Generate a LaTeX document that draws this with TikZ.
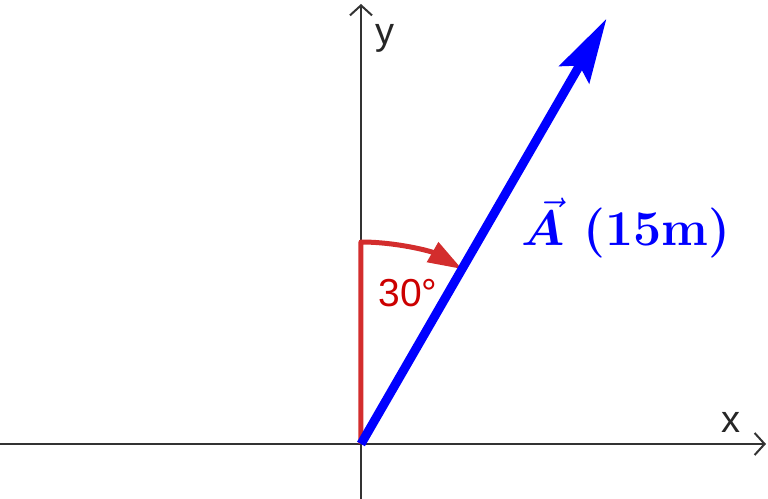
\documentclass[tikz,border=0pt]{standalone}
\usepackage{bm}
\usepackage{fontspec}
\newfontfamily\axisfont{Liberation Sans}
\usetikzlibrary{arrows.meta,positioning,calc}
\definecolor{vecblue}{RGB}{0,0,255}
\definecolor{anglered}{RGB}{211,45,45}
\definecolor{angletext}{RGB}{204,0,0}
\tikzset{
    axis style/.style={draw=black!80,line width=1pt,-{Straight Barb[length=5pt,width=11pt,line width=1pt]}},
    vector style/.style={vecblue,line width=4.5pt,-{Stealth[length=32pt,width=17pt,inset=5pt]}},
    angle style/.style={anglered,line width=2.5pt,line join=round,-{Triangle[length=17pt,width=11pt]}},
    axis label/.style={font=\axisfont\fontsize{19}{22}\selectfont,text=black!85},
    angle label/.style={font=\axisfont\fontsize{19.5}{22}\selectfont,text=angletext},
    vector label/.style={font=\fontsize{25}{28}\selectfont\bfseries,text=vecblue},
}

\begin{document}
\begin{tikzpicture}[x=0.5pt,y=0.5pt]
        \useasboundingbox (-361,-55) rectangle (407,444);
        \coordinate (O) at (0,0);
        \coordinate (xstart) at (-361,0);
        \coordinate (xend) at (405,0);
        \coordinate (ystart) at (0,-55);
        \coordinate (yend) at (0,440);
        \coordinate (Atip) at (60:491);
        \coordinate (arcstart) at (90:202);

        \draw[axis style] (xstart) -- (xend);
        \draw[axis style] (ystart) -- (yend);
        \node[axis label] (xlabel) at (370,22) {x};
        \node[axis label] (ylabel) at (24,406) {y};

        \draw[angle style] (O) -- (arcstart) arc[start angle=90, end angle=60, radius=202];
        \node[angle label] (anglelabel) at (47,151) {30°};

        \draw[vector style] (O) -- (Atip);
        \node[vector label] (Alabel) at (265,216) {$\vec{\bm A}$ (15m)};
    \end{tikzpicture}
\end{document}
